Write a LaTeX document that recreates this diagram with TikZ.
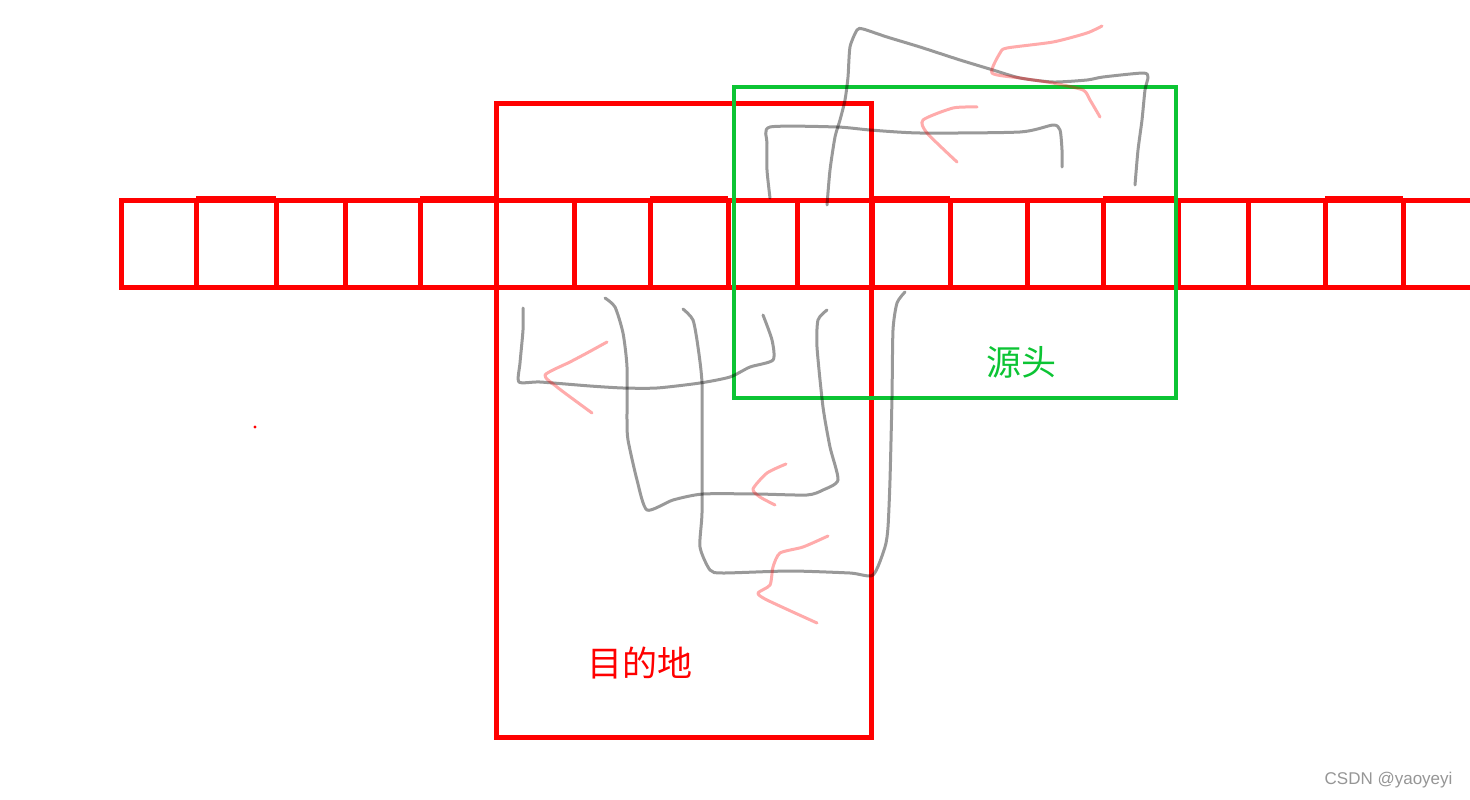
\documentclass[tikz,border=0pt]{standalone}
\usepackage{fontspec}
\newfontfamily\cjk{Noto Sans CJK SC}
\newfontfamily\wmfont{Liberation Sans}
\definecolor{boxred}{RGB}{255,0,0}
\definecolor{srcgreen}{RGB}{12,196,52}
\definecolor{wmgray}{RGB}{150,150,150}

\begin{document}
\begin{tikzpicture}[x=1pt,y=-1pt,
  cellline/.style={draw=boxred,line width=5pt},
  srcbox/.style={draw=srcgreen,line width=4.8pt},
  trace/.style={draw=black,opacity=0.4,line width=3pt,line cap=round,line join=round},
  backmark/.style={draw=red,opacity=0.33,line width=3pt,line cap=round,line join=round}]
\useasboundingbox (0,0) rectangle (1470,800);
\fill[white] (0,0) rectangle (1470,800);
% the row of cells
\draw[cellline] (1472,200) -- (121,200) -- (121,287) -- (1472,287);
\foreach \x in {196,276,345,420,496,574,650,728,797,872,950,1027,1103,1178,1248,1325,1403} {
    \draw[cellline] (\x,200) -- (\x,287);
}
\foreach \a/\b in {196/276,420/496,650/728,872/950,1103/1178,1325/1403} {
    \draw[cellline] (\a,198.8) -- (\b,198.8);
}
\fill[boxred] (255,427) circle (1.6pt);
% destination and source
\draw[cellline] (496,103) rectangle (871,737);
\draw[srcbox] (734,87) rectangle (1176,398);
\node[text=boxred,font=\cjk\fontsize{35}{40}\selectfont] (dst) at (640,663) {目的地};
\node[text=srcgreen,font=\cjk\fontsize{35}{40}\selectfont] (src) at (1021,362) {源头};
% sketched moves
\draw[trace] plot[smooth,tension=0.4] coordinates {(827,205) (830,170) (835,137) (840,120) (845,100) (848,77) (850,47) (857,30) (863,29) (887,37) (920,47) (960,60) (993,70) (1020,78) (1053,82) (1087,80) (1103,77) (1143,73) (1148,77) (1145,90) (1142,120) (1138,150) (1135,185)};
\draw[trace] plot[smooth,tension=0.4] coordinates {(770,198) (767,170) (767,143) (770,127) (837,127) (870,130) (920,133) (1020,132) (1053,125) (1060,130) (1062,150) (1062,167)};
\draw[trace] plot[smooth,tension=0.4] coordinates {(523,308) (523,330) (520,363) (519,382) (540,382) (590,386) (623,388) (657,388) (700,383) (730,377) (750,367) (773,360) (772,340) (763,315)};
\draw[trace] plot[smooth,tension=0.4] coordinates {(605,298) (615,307) (623,333) (627,367) (627,420) (628,440) (637,480) (647,510) (673,500) (703,494) (757,494) (807,495) (823,490) (838,480) (830,447) (823,407) (817,347) (818,320) (827,310)};
\draw[trace] plot[smooth,tension=0.4] coordinates {(683,309) (693,320) (698,347) (702,383) (702,447) (702,513) (700,547) (710,570) (723,573) (790,571) (850,573) (873,575) (885,547) (888,527) (890,480) (892,397) (893,330) (897,303) (905,292)};
% arrow heads
\draw[backmark] plot[smooth,tension=0.4] coordinates {(1102,26) (1087,33) (1053,42) (1007,48) (1000,53) (992,73) (1020,78) (1053,83) (1083,90) (1090,100) (1100,117)};
\draw[backmark] plot[smooth,tension=0.4] coordinates {(977,107) (953,108) (923,120) (927,133) (957,162)};
\draw[backmark] plot[smooth,tension=0.4] coordinates {(607,342) (587,353) (570,362) (545,375) (557,387) (577,402) (592,413)};
\draw[backmark] plot[smooth,tension=0.4] coordinates {(786,464) (767,473) (753,489) (760,497) (775,505)};
\draw[backmark] plot[smooth,tension=0.4] coordinates {(828,536) (803,547) (780,553) (773,567) (770,585) (758,593) (767,600) (817,623)};
\node[text=wmgray,font=\wmfont\fontsize{17}{20}\selectfont,anchor=east] (mark) at (1456,780) {CSDN @yaoyeyi};
\end{tikzpicture}
\end{document}
